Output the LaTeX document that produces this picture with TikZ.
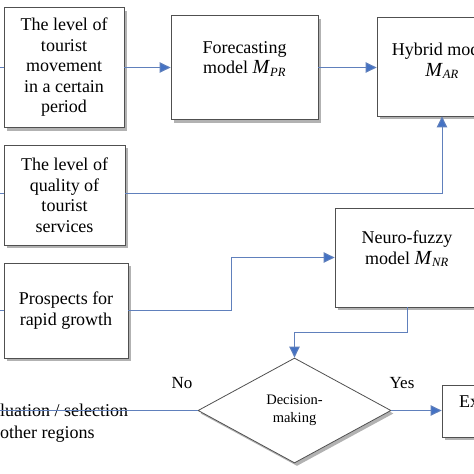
\documentclass[tikz,border=0pt]{standalone}
\usepackage{fontspec}
\setmainfont{Liberation Serif}
\usetikzlibrary{arrows.meta,shapes.geometric,shadows}
\definecolor{lineblue}{RGB}{96,128,188}
\definecolor{tipblue}{RGB}{68,114,196}
\definecolor{boxgray}{RGB}{80,80,80}
\newcommand{\modelsym}[1]{{\fontsize{20}{20}\selectfont\textit{M}}\textsubscript{\textit{#1}}}
\tikzset{
  box/.style={draw=boxgray, fill=white, line width=0.8pt, inner sep=0pt,
    drop shadow={shadow xshift=2.5pt, shadow yshift=-3pt, fill=black, opacity=0.3}},
  txt/.style={align=center, inner sep=0pt, font=\fontsize{18}{20.5}\selectfont},
  conn/.style={draw=lineblue, line width=1pt},
  arr/.style={conn, -{Triangle[length=11pt,width=10.5pt,fill=tipblue]}},
}
\begin{document}
\begin{tikzpicture}[x=1pt,y=-1pt]
\useasboundingbox (0,0) rectangle (474,474);
\clip (0,0) rectangle (474,474);
% input boxes
\node[box, txt, minimum width=120pt, minimum height=120pt] (b1) at (64,67.5)
  {The level of\\tourist\\movement\\in a certain\\period};
\node[box, txt, minimum width=121pt, minimum height=100pt] (b2) at (64.5,195)
  {The level of\\quality of\\tourist\\services};
\node[box, txt, minimum width=124pt, minimum height=95pt] (b3) at (66,310.5)
  {Prospects for\\rapid growth};
% models
\node[box, minimum width=147pt, minimum height=104pt] (fc) at (244.5,67.5) {};
\node[txt] (fct) at (244.5,59) {Forecasting\\model \modelsym{PR}};
\node[box, minimum width=130pt, minimum height=99pt] (hy) at (442,66.5) {};
\node[txt] (hyt) at (442,61) {Hybrid model\\\modelsym{AR}};
\node[box, minimum width=144pt, minimum height=99pt] (nf) at (407,257.5) {};
\node[txt] (nft) at (407,249) {Neuro-fuzzy\\model \modelsym{NR}};
% decision
\node[draw=boxgray, fill=white, line width=0.8pt, diamond, minimum width=193pt, minimum height=105pt, inner sep=0pt,
  drop shadow={shadow xshift=2.5pt, shadow yshift=-3pt, fill=black, opacity=0.3},
  font=\fontsize{14.5}{18.5}\selectfont, align=center] (dm) at (294.5,410.5) {Decision-\\making};
\node[box, minimum width=100pt, minimum height=52pt] (ex) at (492,411) {};
\node[txt, anchor=west] (ext) at (459,402) {Ex};
% labels
\node[txt, font=\fontsize{17}{20}\selectfont] (no) at (182,383) {No};
\node[txt, font=\fontsize{17}{20}\selectfont] (yes) at (402,383) {Yes};
\node[txt, anchor=base west, align=left, font=\fontsize{18}{22}\selectfont] (ev) at (0,438) {luation / selection\\other regions};
% incoming stubs
\coordinate (i1) at (0,67.5);
\coordinate (i2) at (0,193);
\coordinate (i3) at (0,310.5);
\coordinate (out) at (0,410.5);
\draw[conn] (i1) -- (b1.west);
\draw[conn] (i2) -- (i2 -| b2.west);
\draw[conn] (i3) -- (b3.west);
% connectors
\draw[arr] (b1.east) -- (fc.west);
\draw[arr] (fc.east) -- (fc.east -| hy.west);
\draw[arr] (b2.east |- i2) -| (hy.south);
\draw[arr] (b3.east) -- (231,310.5) |- (nf.west);
\draw[arr] (nf.south) -- ++(0,25) -| (dm.north);
\draw[arr] (dm.east) -- (dm.east -| ex.west);
\draw[conn] (dm.west) -- (out);
\end{tikzpicture}
\end{document}
